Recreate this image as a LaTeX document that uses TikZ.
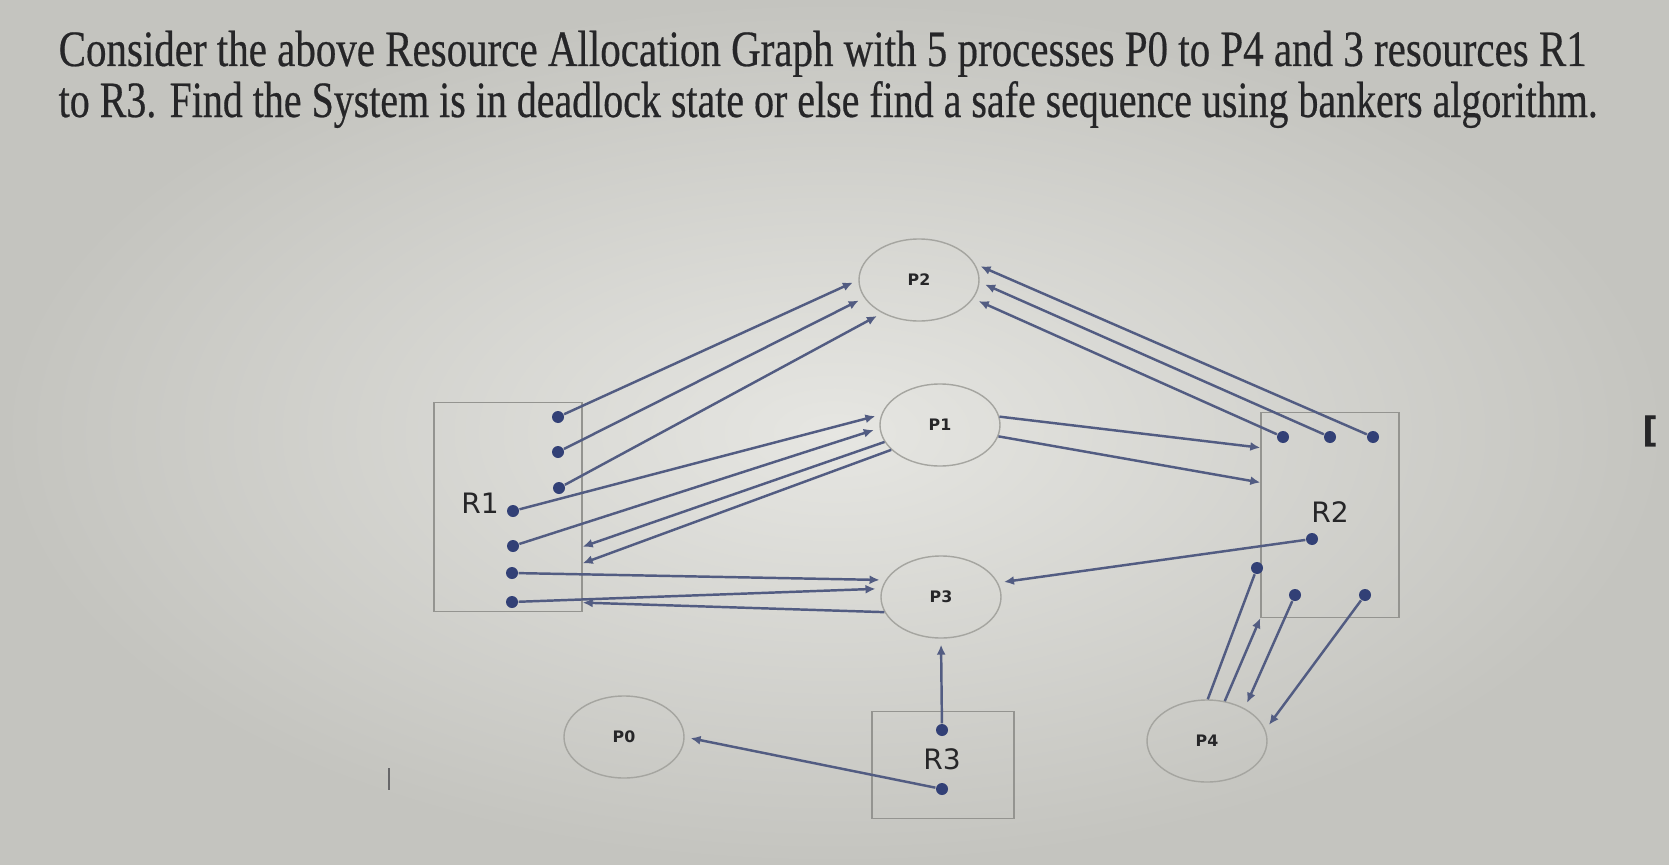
\documentclass[tikz,border=0pt]{standalone}
\usepackage{fontspec}
\setmainfont{Liberation Serif}
\newfontfamily\titlefont[FakeBold=0.5]{Liberation Serif}
\newfontfamily\graphfont{DejaVu Sans}
\usepackage{graphicx}
\usetikzlibrary{shapes.geometric,arrows.meta}

\definecolor{bgin}{RGB}{230,230,226}
\definecolor{bgout}{RGB}{196,196,191}
\definecolor{edgeblue}{RGB}{82,92,130}
\definecolor{dotblue}{RGB}{50,64,118}
\definecolor{rimgray}{RGB}{165,165,160}
\definecolor{inkgray}{RGB}{38,38,40}

\begin{document}
\begin{tikzpicture}[x=0.1mm,y=-0.1mm,
    assign/.style={draw=edgeblue, line width=0.7pt, -{Latex[length=1mm,width=0.9mm]}, shorten >=0.6mm},
    request/.style={draw=edgeblue, line width=0.7pt, -{Latex[length=1mm,width=0.9mm]}}]

      \shade[inner color=bgin, outer color=bgout] (0,0) rectangle (1669,865);
      \useasboundingbox (0,0) rectangle (1669,865);

      \begin{scope}[every node/.style={anchor=base west, inner sep=0pt, text=inkgray, font=\titlefont\fontsize{14.5}{16}\selectfont}]
        \node (title1) at (58,66) {\resizebox{152.8mm}{\height}{Consider the above Resource Allocation Graph with 5 processes P0 to P4 and 3 resources R1}};
        \node (title2) at (58,117) {\resizebox{153.9mm}{\height}{to R3. Find the System is in deadlock state or else find a safe sequence using bankers algorithm.}};
      \end{scope}

      \node[anchor=west, inner sep=0pt, text=inkgray, font=\graphfont\bfseries\fontsize{10}{12}\selectfont] (cutoff) at (1642,431) {[};
      \draw[inkgray!70, line width=0.6pt] (389,768) -- (389,790);

      \begin{scope}[every node/.style={ellipse, draw=rimgray, line width=0.4pt, minimum width=12mm, minimum height=8.2mm, inner sep=0pt, text=inkgray, font=\graphfont\bfseries\fontsize{4.5}{5}\selectfont}]
        \node (P2) at (919,280) {P2};
        \node (P1) at (940,425) {P1};
        \node (P3) at (941,597) {P3};
        \node (P0) at (624,737) {P0};
        \node (P4) at (1207,741) {P4};
      \end{scope}

      \begin{scope}[every node/.style={draw=rimgray!90!black, line width=0.4pt, inner sep=0pt}]
        \node[minimum width=14.8mm, minimum height=20.9mm] (R1) at (508,507) {};
        \node[minimum width=13.8mm, minimum height=20.5mm] (R2) at (1330,515) {};
        \node[minimum width=14.2mm, minimum height=10.7mm] (R3) at (943,765) {};
      \end{scope}

      \begin{scope}[every node/.style={text=inkgray, inner sep=0pt, font=\graphfont\fontsize{8}{9}\selectfont}]
        \node (R1name) at (480,503) {R1};
        \node (R2name) at (1330,512) {R2};
        \node (R3name) at (942,759) {R3};
      \end{scope}

      \begin{scope}[every node/.style={circle, fill=dotblue, inner sep=0pt, minimum size=1.2mm}]
        \node (r1a) at (558,417) {};
        \node (r1b) at (558,452) {};
        \node (r1c) at (559,488) {};
        \node (r1d) at (513,511) {};
        \node (r1e) at (513,546) {};
        \node (r1f) at (512,573) {};
        \node (r1g) at (512,602) {};
        \node (r2a) at (1283,437) {};
        \node (r2b) at (1330,437) {};
        \node (r2c) at (1373,437) {};
        \node (r2d) at (1312,539) {};
        \node (r2e) at (1257,568) {};
        \node (r2f) at (1295,595) {};
        \node (r2g) at (1365,595) {};
        \node (r3a) at (942,730) {};
        \node (r3b) at (942,789) {};
      \end{scope}

      \path (r1a) edge[assign] (P2.180);
      \path (r1b) edge[assign] (P2.198);
      \path (r1c) edge[assign] (P2.222);
      \path (r1d) edge[assign] (P1.170);
      \path (r1e) edge[assign] (P1.183);
      \path (r1f) edge[assign] (P3.163);
      \path (r1g) edge[assign] (P3.172);
      \path (r2a) edge[assign] (P2.341);
      \path (r2b) edge[assign] (P2.358);
      \path (r2c) edge[assign] (P2.16);
      \path (r2d) edge[assign] (P3.14);
      \path (r2e) edge[assign, -, shorten >=0pt] (P4.89);
      \path (r2f) edge[assign] (P4.41);
      \path (r2g) edge[assign] (P4.11);
      \path (r3a) edge[assign] (P3.south);
      \path (r3b) edge[assign] (P0.east);

      \path (P1.197) edge[request] (R1.332);
      \path (P1.207) edge[request] (R1.323);
      \path (P3.195) edge[request] (R1.308);
      \path (P1.8) edge[request] (R2.136);
      \path (P1.349) edge[request] (R2.155);
      \path (P4.66) edge[request] (R2.south west);

    \end{tikzpicture}
\end{document}
